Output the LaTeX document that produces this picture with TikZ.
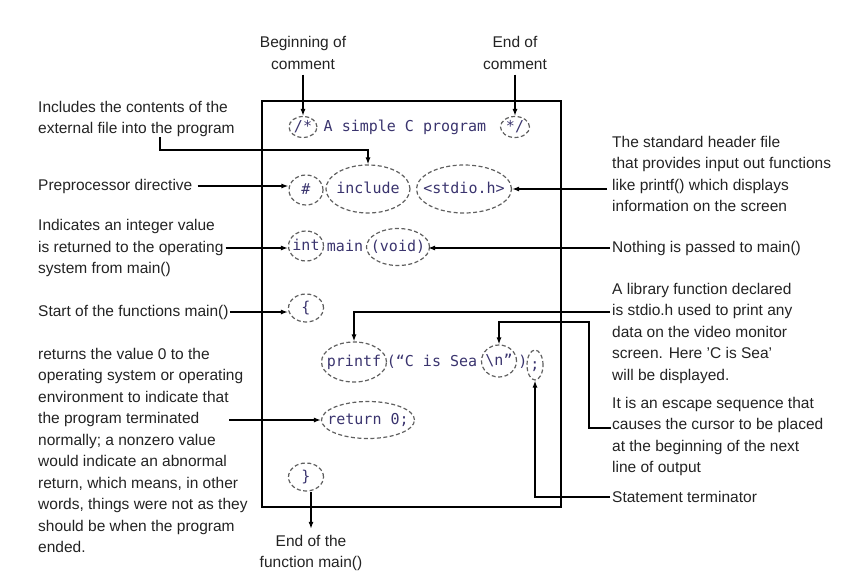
\documentclass[tikz,border=0pt]{standalone}
\usepackage{fontspec}
\setmainfont{Liberation Sans}
\newfontfamily\codefont{DejaVu Sans Mono}
\usetikzlibrary{shapes.geometric,arrows.meta}

\definecolor{codecol}{RGB}{58,52,110}
\definecolor{notecol}{RGB}{35,35,35}
\definecolor{dashcol}{RGB}{95,95,95}
% text of zero width, so the ellipse size comes from the style only
\newcommand{\zw}[1]{\makebox[0pt]{#1}}

\tikzset{
  note/.style={font=\fontsize{15.5}{21.5}\selectfont, text=notecol, align=left, inner sep=0pt},
  code/.style={font=\codefont\fontsize{15}{18}\selectfont, text=codecol, inner sep=0pt, text height=11pt, text depth=3pt},
  cmt/.style={code, ellipse, draw=dashcol, line width=1.2pt, dash pattern=on 4pt off 2.5pt},
  arr/.style={-{Latex[length=7pt,width=5pt]}, line width=1.2pt},
}

\begin{document}
\begin{tikzpicture}[x=1pt,y=-1pt]
  \useasboundingbox (0,0) rectangle (866,586);

  % Program frame
  \node[draw, line width=1.3pt, minimum width=299pt, minimum height=406pt, inner sep=0pt] (prog) at (411.5,304) {};

  % Comment line
  \node[cmt, minimum width=28pt, minimum height=21pt] (cbeg) at (303,127) {\zw{/*}};
  \node[code] (ctitle) at (405,127) {A simple C program};
  \node[cmt, minimum width=29pt, minimum height=21pt] (cend) at (515,127) {\zw{*/}};

  % Preprocessor line
  \node[cmt, minimum width=34pt, minimum height=30pt] (chash) at (306,190) {\zw{\#}};
  \node[cmt, minimum width=84pt, minimum height=48pt] (cinc) at (368,189) {\zw{include}};
  \node[cmt, minimum width=95pt, minimum height=48pt] (cstd) at (464,189) {\zw{<stdio.h>}};

  % main line
  \node[cmt, minimum width=35pt, minimum height=30pt] (cint) at (306,246) {\zw{int}};
  \node[code] (cmain) at (345,247) {main};
  \node[cmt, minimum width=63pt, minimum height=37pt] (cvoid) at (398,247) {\zw{(void)}};

  % Body
  \node[cmt, minimum width=35pt, minimum height=28pt] (copen) at (306,308) {\zw{\{}};
  \node[cmt, minimum width=65pt, minimum height=40pt] (cprintf) at (354,362) {\zw{printf}};
  \node[code] (cstr) at (432,362) {(“C is Sea};
  \node[cmt, minimum width=35pt, minimum height=32pt] (cnl) at (499,361) {\zw{\textbackslash n”}};
  \node[code] (cpar) at (523,362) {)};
  \node[cmt, minimum width=16pt, minimum height=30pt] (csemi) at (535,365) {\zw{;}};
  \node[cmt, minimum width=93pt, minimum height=37pt] (cret) at (368,420) {\zw{return 0;}};
  \node[cmt, minimum width=35pt, minimum height=28pt] (cclose) at (306,477) {\zw{\}}};

  % Notes on top and bottom
  \node[note, align=center] (begc) at (303,53) {Beginning of\\comment};
  \node[note, align=center] (endc) at (515,53) {End of\\comment};
  \node[note, align=center] (endf) at (311,553) {End of the\\function main()};

  % Notes on the left
  \node[note, anchor=north west] (incl) at (38,101) {Includes the contents of the\\external file into the program};
  \node[note, anchor=west] (prep) at (38,186) {Preprocessor directive};
  \node[note, anchor=west] (intv) at (38,248) {Indicates an integer value\\is returned to the operating\\system from main()};
  \node[note, anchor=west] (start) at (38,312) {Start of the functions main()};
  \node[note, anchor=north west] (ret) at (38,348) {returns the value 0 to the\\operating system or operating\\environment to indicate that\\the program terminated\\normally; a nonzero value\\would indicate an abnormal\\return, which means, in other\\words, things were not as they\\should be when the program\\ended.};

  % Notes on the right
  \node[note, anchor=north west] (hdr) at (612,136) {The standard header file\\that provides input out functions\\like printf() which displays\\information on the screen};
  \node[note, anchor=west] (noth) at (612,248) {Nothing is passed to main()};
  \node[note, anchor=north west] (lib) at (612,283) {A library function declared\\is stdio.h used to print any\\data on the video monitor\\screen. Here 'C is Sea'\\will be displayed.};
  \node[note, anchor=north west] (esc) at (612,397) {It is an escape sequence that\\causes the cursor to be placed\\at the beginning of the next\\line of output};
  \node[note, anchor=west] (term) at (612,497) {Statement terminator};

  % Connectors from above and below
  \draw[arr, shorten <=5pt] (begc) -- (cbeg);
  \draw[arr, shorten <=5pt] (endc) -- (cend);
  \draw[arr, shorten >=6pt] (cclose.south -| endf.north) -- (endf.north);

  % Connectors from the left
  \coordinate (inclfoot) at (160,137);
  \coordinate (inclbend) at (160,150);
  \draw[arr] (inclfoot) -- (inclbend) -| (cinc.north);
  \draw[arr, shorten <=5pt] (prep.east) -- (prep.east -| chash.west);
  \draw[arr, shorten <=2pt] (intv.east) -- (intv.east -| cint.west);
  \draw[arr, shorten <=1pt] (start.east) -- (start.east -| copen.west);
  \coordinate (retfoot) at (229,420);
  \draw[arr] (retfoot) -- (retfoot -| cret.west);

  % Connectors from the right
  \draw[arr] ([xshift=-5pt]hdr.west |- cstd.east) -- (cstd.east);
  \draw[arr] ([xshift=-2pt]noth.west) -- ([xshift=-2pt]noth.west -| cvoid.east);
  \coordinate (libfoot) at (610,312);
  \draw[arr] (libfoot) -| (cprintf.north);
  \coordinate (escfoot) at (611,428);
  \coordinate (escbend) at (589,322);
  \draw[arr] (escfoot) -| (escbend) -| (cnl.north);
  \draw[arr] ([xshift=-2pt]term.west) -| (csemi.south);
\end{tikzpicture}
\end{document}
